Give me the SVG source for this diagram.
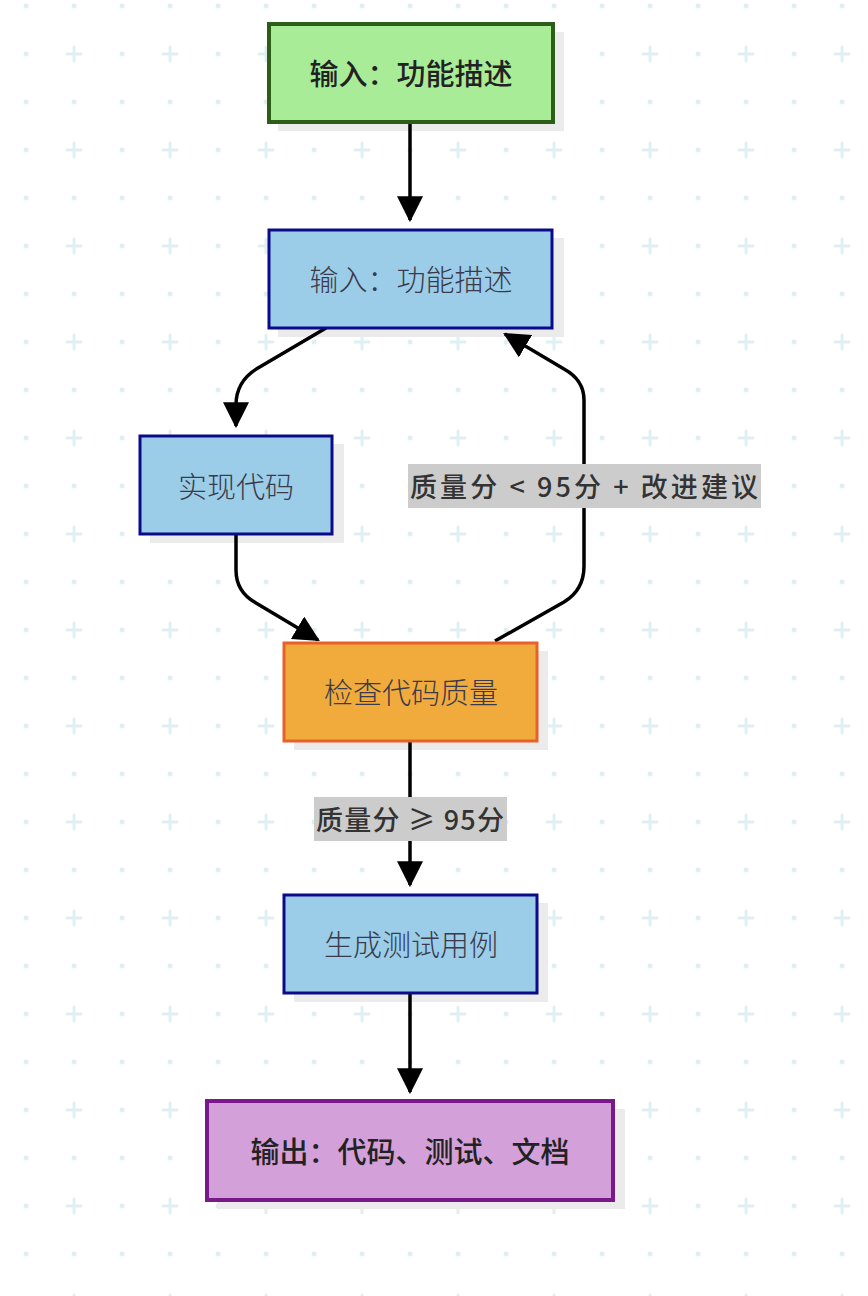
<svg xmlns="http://www.w3.org/2000/svg" width="868" height="1296" viewBox="0 0 868 1296">
<defs>
<pattern id="bg" x="0" y="0" width="96" height="96" patternUnits="userSpaceOnUse">
<circle cx="26" cy="6" r="2.5" fill="#e0eff2"/><circle cx="74" cy="6" r="2.5" fill="#e0eff2"/>
<circle cx="26" cy="54" r="2.5" fill="#e0eff2"/>
<path d="M67 54h14M74 47v14" stroke="#e0eff2" stroke-width="3" stroke-linecap="round"/>
</pattern>
<marker id="arr" viewBox="0 0 12 12" refX="11" refY="6" markerWidth="26" markerHeight="26" markerUnits="userSpaceOnUse" orient="auto"><path d="M0 0L12 6L0 12Z" fill="#000"/></marker>
<style>
.sh{fill:#ebebeb}
.t{font-family:"Noto Sans CJK SC","Noto Sans",sans-serif;font-size:29px;fill:#3a3a4a;text-anchor:middle;dominant-baseline:central;font-weight:300}
.b{font-weight:500;fill:#222}
.blue{fill:#9ccde8;stroke:#0a0a8a;stroke-width:3}
.e{fill:none;stroke:#000;stroke-width:3.5;marker-end:url(#arr)}
.lb{fill:#cccccc}
.lt{font-family:"Noto Sans CJK SC","Noto Sans",sans-serif;font-size:27px;fill:#333;text-anchor:middle;dominant-baseline:central;font-weight:500}
</style>
</defs>
<rect width="868" height="1296" fill="#fff"/>
<rect width="868" height="1296" fill="url(#bg)"/>
<g id="shadows">
<rect class="sh" x="278" y="32" width="286" height="99"/>
<rect class="sh" x="278" y="238" width="286" height="99"/>
<rect class="sh" x="150" y="444" width="194" height="99"/>
<rect class="sh" x="294" y="651" width="254" height="99"/>
<rect class="sh" x="294" y="903" width="254" height="99"/>
<rect class="sh" x="217" y="1109" width="408" height="100"/>
</g>
<g id="connectors">
<path class="e" d="M410 122V220"/>
<path class="e" d="M326 328L258 368Q236 381 236 405V426"/>
<path class="e" d="M236 535V570Q236 592 256 603L318 640"/>
<path class="e" d="M495 641L564 602Q584 590 584 566V400Q584 380 564 369L505 334"/>
<path class="e" d="M410 741V885"/>
<path class="e" d="M410 993V1092"/>
<rect class="lb" x="408" y="464" width="353" height="44"/>
<text class="lt" x="584" y="485" textLength="348">质量分 &lt; 95分 + 改进建议</text>
<rect class="lb" x="314" y="797" width="193" height="44"/>
<text class="lt" x="410" y="818" textLength="188">质量分 ≥ 95分</text>
</g>
<g id="n1"><rect x="269" y="24" width="284" height="98" fill="#a8ec98" stroke="#2d5e17" stroke-width="4"/><text class="t b" x="411" y="72">输入：功能描述</text></g>
<g id="n2"><rect class="blue" x="269" y="230" width="283" height="98"/><text class="t" x="411" y="278">输入：功能描述</text></g>
<g id="n3"><rect class="blue" x="140" y="436" width="192" height="98"/><text class="t" x="236" y="485">实现代码</text></g>
<g id="n4"><rect x="284" y="643" width="253" height="98" fill="#f0ab3c" stroke="#e8602a" stroke-width="3"/><text class="t" x="411" y="691">检查代码质量</text></g>
<g id="n5"><rect class="blue" x="284" y="895" width="253" height="98"/><text class="t" x="411" y="943">生成测试用例</text></g>
<g id="n6"><rect x="207" y="1101" width="406" height="99" fill="#d3a0da" stroke="#7a1a8a" stroke-width="4"/><text class="t b" x="410" y="1150">输出：代码、测试、文档</text></g>
</svg>
